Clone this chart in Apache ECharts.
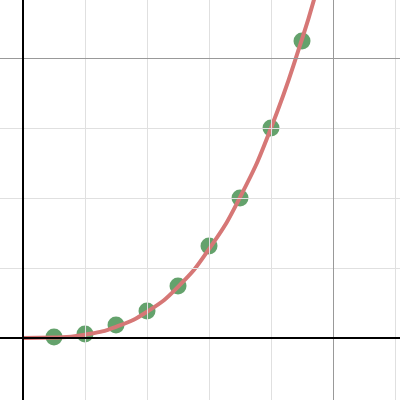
<!DOCTYPE html>
<html>
<head>
<meta charset="UTF-8">
<title>chart</title>
<style>html,body{margin:0;padding:0;background:#fff}</style>
</head>
<body>
<div id="chart" style="width:400px;height:400px"></div>
<script src="https://cdn.jsdelivr.net/npm/echarts@6/dist/echarts.min.js"></script>
<script>
// data points (green dots)
var pointX = [0.5, 1, 1.5, 2, 2.5, 3, 3.5, 4, 4.5];
var pointY = [0.014, 0.057, 0.186, 0.386, 0.743, 1.314, 2.0, 3.0, 4.243];
// fitted curve
var curveX = [0, 0.5, 1, 1.5, 2, 2.5, 3, 3.5, 4, 4.5, 4.75];
var curveY = [0, 0.006, 0.047, 0.16, 0.375, 0.73, 1.27, 2.01, 3.0, 4.27, 5.02];
// grid lines
var minorX = [1, 2, 3, 4, 6];
var minorY = [1, 2, 3];
var majorX = [5];
var majorY = [4];

function zip(a, b) { return a.map(function (v, i) { return [v, b[i]]; }); }
function vLines(arr, color, width) {
  return arr.map(function (v) { return { xAxis: v, lineStyle: { color: color, width: width, type: 'solid' } }; });
}
function hLines(arr, color, width) {
  return arr.map(function (v) { return { yAxis: v, lineStyle: { color: color, width: width, type: 'solid' } }; });
}

var chart = echarts.init(document.getElementById('chart'));
chart.setOption({
  animation: false,
  grid: { left: 0, right: 0, top: 0, bottom: 0 },
  xAxis: { type: 'value', min: -0.371, max: 6.08, show: false },
  yAxis: { type: 'value', min: -0.886, max: 4.829, show: false },
  series: [
    {
      type: 'line', data: [], silent: true,
      markLine: {
        silent: true, symbol: 'none', label: { show: false }, animation: false,
        data: [].concat(
          vLines(minorX, '#e0e0e0', 1), hLines(minorY, '#e0e0e0', 1),
          vLines(majorX, '#999', 1), hLines(majorY, '#999', 1),
          vLines([0], '#000', 2), hLines([0], '#000', 2)
        )
      }
    },
    {
      type: 'line', data: zip(curveX, curveY), smooth: true, showSymbol: false,
      lineStyle: { color: '#d67776', width: 4 }
    },
    {
      type: 'scatter', data: zip(pointX, pointY), symbolSize: 17,
      itemStyle: { color: '#3d8b47' }
    }
  ]
});
</script>
</body>
</html>
